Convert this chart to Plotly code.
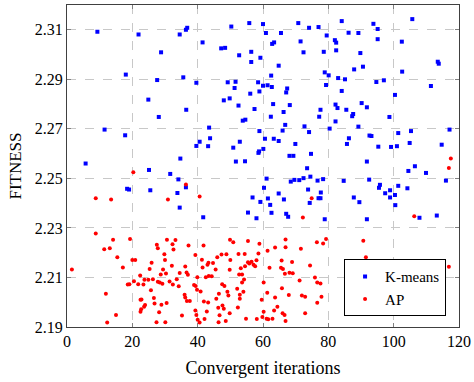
import plotly.graph_objects as go

# K-means points (Convergent iterations, FITNESS)
km_x = [5.7, 9.3, 11.5, 17.8, 18.0, 18.4, 19.0, 21.9, 24.9, 25.1,
        25.5, 27.6, 28.1, 28.8, 31.6, 33.8, 34.1, 34.5, 34.5, 34.7,
        35.6, 36.4, 36.5, 36.4, 36.8, 39.6, 39.6, 40.6, 41.5, 41.7,
        43.2, 43.5, 43.8, 47.2, 48.4, 48.0, 49.2, 49.8, 50.3, 50.9,
        51.3, 51.6, 51.7, 52.5, 52.7, 52.9, 53.8, 54.6, 54.5, 55.4,
        55.8, 56.1, 56.4, 56.4, 56.8, 57.4, 58.0, 58.5, 58.6, 58.8,
        58.9, 58.9, 59.2, 59.2, 60.0, 60.1, 60.0, 60.3, 60.6, 60.9,
        61.1, 61.4, 61.5, 62.2, 62.4, 62.5, 62.7, 62.6, 62.8, 63.4,
        63.1, 63.3, 64.8, 64.8, 64.8, 65.5, 66.0, 66.3, 66.4, 66.8,
        67.1, 67.4, 67.1, 67.7, 68.1, 69.3, 68.2, 68.5, 69.6, 69.9,
        70.8, 71.1, 71.5, 72.4, 72.4, 72.7, 73.5, 73.8, 74.1, 74.1,
        74.3, 74.5, 74.7, 76.7, 77.0, 77.0, 77.6, 77.2, 77.6, 77.7,
        78.4, 78.6, 78.9, 78.9, 79.3, 79.5, 80.1, 80.4, 82.0, 82.4,
        82.2, 82.2, 82.4, 82.8, 83.0, 84.1, 84.1, 84.7, 85.1, 85.5,
        85.7, 86.2, 86.3, 87.3, 87.6, 87.8, 87.9, 89.2, 89.2, 89.5,
        89.8, 90.2, 90.6, 91.8, 91.8, 91.8, 92.5, 92.6, 93.2, 93.8,
        94.7, 95.1, 95.1, 95.3, 95.5, 95.8, 97.0, 97.4, 98.7, 98.9,
        98.9, 99.2, 100.4, 100.4, 100.5, 101.0, 101.4, 101.4, 102.5, 102.6,
        104.2, 104.5, 104.9, 105.3, 105.7, 106.5, 107.9, 109.9, 111.4, 113.2,
        113.5, 113.8, 114.7, 116.0, 117.1]
km_y = [2.2560, 2.3092, 2.2697, 2.2674, 2.2919, 2.2458, 2.2455, 2.3081, 2.2818, 2.2534,
        2.2452, 2.2897, 2.2748, 2.3009, 2.2518, 2.2441, 2.2496, 2.2382, 2.3081, 2.2580,
        2.2908, 2.2464, 2.2777, 2.3100, 2.3108, 2.2886, 2.2631, 2.2648, 2.3049, 2.2343,
        2.2630, 2.2705, 2.2662, 2.3025, 2.3027, 2.2815, 2.2888, 2.2823, 2.3113, 2.2624,
        2.2865, 2.2890, 2.2568, 2.2794, 2.2997, 2.2648, 2.2733, 2.2737, 2.2569, 2.2362,
        2.3127, 2.2842, 2.3011, 2.2970, 2.2423, 2.2780, 2.2339, 2.2888, 2.2603, 2.2609,
        2.2851, 2.2691, 2.2405, 2.2987, 2.2874, 2.2619, 2.3123, 2.2462, 2.2660, 2.3087,
        2.2499, 2.2876, 2.2419, 2.2393, 2.2749, 2.2915, 2.2869, 2.2361, 2.3043, 2.3049,
        2.2800, 2.2660, 2.2651, 2.2955, 2.2439, 2.3087, 2.2693, 2.2768, 2.2415, 2.2716,
        2.2847, 2.2863, 2.2357, 2.2345, 2.2591, 2.2591, 2.2796, 2.2487, 2.2494, 2.2639,
        2.3127, 2.2493, 2.3053, 2.3009, 2.2501, 2.2710, 2.2541, 2.2455, 2.2687, 2.3108,
        2.2401, 2.2507, 2.2599, 2.2491, 2.3111, 2.2420, 2.2420, 2.2749, 2.2777, 2.2443,
        2.2497, 2.3011, 2.2335, 2.2928, 2.2877, 2.3077, 2.2916, 2.2701, 2.3058, 2.3048,
        2.2730, 2.2798, 2.3017, 2.2784, 2.2905, 2.2853, 2.3135, 2.2490, 2.2900, 2.2777,
        2.2639, 2.3088, 2.2662, 2.2751, 2.2760, 2.2423, 2.2940, 2.3087, 2.2709, 2.2404,
        2.3006, 2.2804, 2.2951, 2.2787, 2.2568, 2.2335, 2.2495, 2.2673, 2.2671, 2.3124,
        2.2889, 2.3103, 2.3062, 2.2628, 2.2462, 2.2474, 2.2896, 2.2440, 2.2748, 2.2452,
        2.2423, 2.2627, 2.2433, 2.2837, 2.2392, 2.2630, 2.2683, 2.2470, 2.3052, 2.2931,
        2.2460, 2.2530, 2.2643, 2.2691, 2.3143, 2.2549, 2.2341, 2.2522, 2.2873, 2.2350,
        2.2971, 2.2963, 2.2636, 2.2491, 2.2697]

# AP points
ap_x = [1.5, 8.8, 8.8, 11.4, 11.9, 12.3, 13.1, 13.5, 14.1, 15.0,
        15.4, 17.1, 18.6, 19.1, 19.3, 20.0, 20.9, 20.3, 20.5, 21.8,
        22.4, 22.5, 22.8, 22.5, 22.7, 23.4, 23.7, 23.6, 23.9, 24.9,
        25.3, 25.7, 25.9, 26.3, 26.6, 26.8, 27.4, 30.1, 27.5, 27.8,
        27.8, 28.2, 28.4, 28.7, 28.9, 29.2, 29.4, 29.8, 30.0, 30.3,
        30.5, 30.6, 30.9, 31.4, 32.1, 32.3, 32.6, 32.4, 33.2, 33.6,
        34.2, 34.5, 35.2, 36.0, 36.2, 36.2, 36.4, 36.6, 36.7, 37.0,
        37.2, 37.6, 38.9, 39.4, 39.3, 39.3, 39.6, 39.8, 39.9, 40.0,
        40.6, 40.6, 40.9, 41.3, 41.5, 41.8, 41.9, 42.1, 42.5, 42.8,
        43.0, 43.3, 43.2, 43.4, 44.3, 44.7, 45.5, 45.7, 46.0, 46.3,
        46.4, 46.5, 46.7, 47.3, 47.5, 47.6, 48.0, 48.2, 48.6, 48.8,
        49.1, 49.4, 49.8, 49.8, 49.9, 50.9, 50.0, 52.1, 52.3, 52.5,
        52.7, 53.6, 52.9, 52.9, 53.2, 53.6, 54.0, 54.2, 54.4, 54.5,
        54.8, 55.4, 55.4, 55.8, 56.5, 57.1, 57.6, 58.0, 58.1, 58.6,
        58.9, 59.6, 59.8, 60.2, 60.2, 61.1, 61.3, 61.4, 61.6, 62.0,
        62.9, 63.4, 63.7, 63.7, 64.4, 65.5, 66.1, 65.7, 65.8, 66.0,
        66.6, 66.7, 66.9, 66.9, 66.9, 67.9, 68.1, 69.1, 68.9, 71.2,
        71.6, 71.9, 72.9, 72.2, 72.9, 74.4, 74.9, 75.9, 76.6, 77.6,
        76.5, 76.6, 77.9, 78.4, 79.3, 86.9, 87.4, 90.7, 91.5, 106.3,
        116.9, 117.5, 116.9]
ap_y = [2.2132, 2.2420, 2.2277, 2.2214, 2.2034, 2.1918, 2.2218, 2.2415, 2.2252, 2.1948,
        2.2182, 2.2140, 2.2072, 2.2073, 2.2255, 2.2171, 2.2171, 2.2525, 2.2085, 2.2073,
        2.2108, 2.2010, 2.2011, 2.1962, 2.1972, 2.2072, 2.2091, 2.1982, 2.1989, 2.2091,
        2.2134, 2.2048, 2.2159, 2.2093, 2.2017, 2.1995, 2.1919, 2.1919, 2.2232, 2.2218,
        2.2083, 2.1960, 2.2080, 2.2112, 2.1990, 2.2075, 2.2132, 2.2194, 2.2170, 2.2116,
        2.1997, 2.2252, 2.2415, 2.2084, 2.2147, 2.2234, 2.2213, 2.2072, 2.2251, 2.2093,
        2.2065, 2.2118, 2.1946, 2.2030, 2.2019, 2.2144, 2.2475, 2.2120, 2.2005, 2.2111,
        2.2229, 2.2005, 2.2070, 2.2066, 2.2191, 2.1967, 2.1948, 2.2050, 2.2101, 2.1929,
        2.1918, 2.2427, 2.2043, 2.2172, 2.2140, 2.2229, 2.2003, 2.1932, 2.2101, 2.1963,
        2.2151, 2.2159, 2.1999, 2.2106, 2.2105, 2.2158, 2.2132, 2.2014, 2.2182, 2.1978,
        2.1919, 2.2034, 2.1947, 2.2193, 2.2073, 2.1987, 2.1974, 2.2066, 2.1924, 2.2194,
        2.2042, 2.2027, 2.1956, 2.2131, 2.2252, 2.2242, 2.2170, 2.2054, 2.1979, 2.2195,
        2.2112, 2.2112, 2.2030, 2.2014, 2.2137, 2.2080, 2.2042, 2.2092, 2.2195, 2.2145,
        2.1933, 2.2247, 2.2161, 2.2156, 2.2163, 2.2151, 2.2145, 2.2169, 2.1932, 2.2197,
        2.2236, 2.2010, 2.1940, 2.1962, 2.2080, 2.1933, 2.2038, 2.2208, 2.1931, 2.2139,
        2.1933, 2.1967, 2.2019, 2.2221, 2.1982, 2.2139, 2.2134, 2.2168, 2.2056, 2.1956,
        2.1948, 2.2115, 2.1924, 2.2253, 2.2222, 2.2029, 2.2119, 2.2117, 2.2162, 2.2088,
        2.2216, 2.2027, 2.2022, 2.2342, 2.1956, 2.2148, 2.2420, 2.2100, 2.2080, 2.2076,
        2.2242, 2.1998, 2.2022, 2.2237, 2.2255, 2.2140, 2.2065, 2.2248, 2.2182, 2.2347,
        2.2542, 2.2580, 2.2143]

x_ticks = [0, 20, 40, 60, 80, 100, 120]
y_ticks = [2.19, 2.21, 2.23, 2.25, 2.27, 2.29, 2.31]
y_tick_text = ["2.19", "2.21", "2.23", "2.25", "2.27", "2.29", "2.31"]

FONT = "Liberation Serif"

fig = go.Figure()
fig.add_trace(go.Scatter(x=km_x, y=km_y, mode="markers", name="K-means",
                         marker=dict(symbol="square", size=4, color="#0000ff",
                                     line=dict(width=0))))
fig.add_trace(go.Scatter(x=ap_x, y=ap_y, mode="markers", name="AP",
                         marker=dict(symbol="circle", size=4, color="#ff0000",
                                     line=dict(width=0))))

axis_common = dict(showline=True, linecolor="#404040", linewidth=1, mirror="ticks",
                   ticks="inside", ticklen=4, tickcolor="#808080",
                   showgrid=True, gridcolor="#c8c8c8", griddash="dash", gridwidth=1,
                   zeroline=False, tickfont=dict(family=FONT, size=16, color="black"))

fig.update_xaxes(range=[0, 120], tickvals=x_ticks, automargin=False,
                 title=dict(text="Convergent iterations", font=dict(family=FONT, size=18, color="black"),
                            standoff=12),
                 **axis_common)
fig.update_yaxes(range=[2.19, 2.32], tickvals=y_ticks, ticktext=y_tick_text, automargin=False,
                 title=dict(text="FITNESS", font=dict(family=FONT, size=17, color="black"),
                            standoff=8),
                 **axis_common)

fig.update_layout(
    width=474, height=382,
    margin=dict(l=67, r=15, t=5, b=55),
    paper_bgcolor="white", plot_bgcolor="white",
    showlegend=True,
    legend=dict(x=0.967, y=0.033, xanchor="right", yanchor="bottom",
                bgcolor="white", bordercolor="black", borderwidth=1,
                font=dict(family=FONT, size=15, color="black"),
                tracegroupgap=0, itemwidth=30),
)

fig.write_html("out.html", config={"displayModeBar": False},
               post_script="document.body.style.margin='0';")
